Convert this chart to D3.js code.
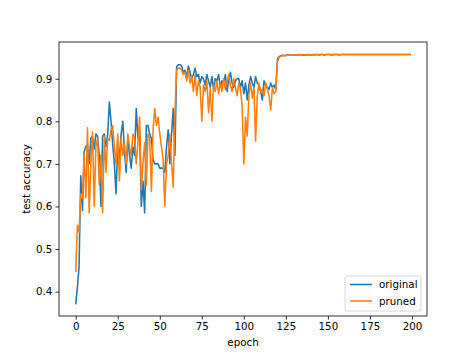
<!DOCTYPE html>
<html>
<head>
<meta charset="utf-8">
<script src="https://cdn.jsdelivr.net/npm/d3@7"></script>
<style>
  body { margin: 0; background: #fff; }
  svg text { font-family: "DejaVu Sans", sans-serif; fill: #000; }
</style>
</head>
<body>
<svg id="chart" width="474" height="355"></svg>
<script>
// test accuracy per epoch
var original = [
  0.372, 0.41, 0.46, 0.672, 0.59, 0.728, 0.74, 0.745, 0.70, 0.76,
  0.765, 0.735, 0.77, 0.765, 0.72, 0.60, 0.765, 0.77, 0.74, 0.77,
  0.845, 0.80, 0.745, 0.70, 0.63, 0.75, 0.71, 0.77, 0.80, 0.73,
  0.68, 0.76, 0.72, 0.69, 0.74, 0.72, 0.83, 0.76, 0.78, 0.60,
  0.66, 0.585, 0.79, 0.79, 0.77, 0.76, 0.71, 0.70, 0.70, 0.70,
  0.69, 0.69, 0.69, 0.68, 0.74, 0.78, 0.70, 0.77, 0.83, 0.72,
  0.928, 0.933, 0.933, 0.93, 0.915, 0.92, 0.905, 0.93, 0.915, 0.90,
  0.91, 0.925, 0.905, 0.91, 0.89, 0.905, 0.90, 0.885, 0.91, 0.895,
  0.88, 0.905, 0.875, 0.90, 0.895, 0.91, 0.88, 0.895, 0.89, 0.91,
  0.87, 0.895, 0.915, 0.89, 0.88, 0.895, 0.90, 0.90, 0.88, 0.895,
  0.865, 0.89, 0.85, 0.885, 0.905, 0.89, 0.88, 0.905, 0.89, 0.885,
  0.87, 0.85, 0.895, 0.885, 0.88, 0.875, 0.89, 0.88, 0.885, 0.875,
  0.947, 0.952, 0.954, 0.955, 0.954, 0.955, 0.956, 0.955, 0.956, 0.955,
  0.956, 0.955, 0.956, 0.957, 0.956, 0.956, 0.955, 0.956, 0.957, 0.956,
  0.956, 0.957, 0.956, 0.957, 0.957, 0.956, 0.957, 0.957, 0.956, 0.957,
  0.957, 0.957, 0.956, 0.957, 0.957, 0.957, 0.957, 0.956, 0.957, 0.957,
  0.957, 0.957, 0.957, 0.957, 0.957, 0.957, 0.957, 0.957, 0.957, 0.957,
  0.957, 0.957, 0.957, 0.957, 0.957, 0.957, 0.957, 0.957, 0.957, 0.957,
  0.957, 0.957, 0.957, 0.957, 0.957, 0.957, 0.957, 0.957, 0.957, 0.957,
  0.957, 0.957, 0.957, 0.957, 0.957, 0.957, 0.957, 0.957, 0.957, 0.957
];
var pruned = [
  0.448, 0.556, 0.54, 0.63, 0.62, 0.72, 0.62, 0.785, 0.585, 0.70,
  0.775, 0.60, 0.74, 0.76, 0.65, 0.72, 0.585, 0.765, 0.68, 0.76,
  0.755, 0.78, 0.79, 0.74, 0.70, 0.77, 0.66, 0.76, 0.72, 0.75,
  0.70, 0.77, 0.74, 0.72, 0.77, 0.76, 0.70, 0.75, 0.81, 0.64,
  0.70, 0.75, 0.65, 0.77, 0.76, 0.635, 0.78, 0.83, 0.79, 0.81,
  0.77, 0.74, 0.71, 0.60, 0.70, 0.72, 0.77, 0.70, 0.645, 0.82,
  0.92, 0.925, 0.925, 0.92, 0.91, 0.915, 0.895, 0.92, 0.89, 0.905,
  0.87, 0.91, 0.86, 0.895, 0.88, 0.80, 0.885, 0.87, 0.895, 0.82,
  0.88, 0.80, 0.885, 0.87, 0.895, 0.865, 0.89, 0.87, 0.90, 0.875,
  0.89, 0.91, 0.885, 0.87, 0.90, 0.88, 0.86, 0.89, 0.875, 0.835,
  0.70, 0.81, 0.765, 0.86, 0.89, 0.855, 0.88, 0.753, 0.86, 0.89,
  0.87, 0.875, 0.86, 0.89, 0.875, 0.86, 0.827, 0.88, 0.865, 0.87,
  0.94, 0.95, 0.953, 0.954, 0.955, 0.954, 0.955, 0.955, 0.956, 0.955,
  0.956, 0.956, 0.955, 0.956, 0.956, 0.957, 0.956, 0.956, 0.957, 0.956,
  0.957, 0.956, 0.957, 0.957, 0.956, 0.957, 0.957, 0.957, 0.956, 0.957,
  0.957, 0.957, 0.957, 0.956, 0.957, 0.957, 0.957, 0.957, 0.957, 0.957,
  0.957, 0.957, 0.957, 0.957, 0.957, 0.957, 0.957, 0.957, 0.957, 0.957,
  0.957, 0.957, 0.957, 0.957, 0.957, 0.957, 0.957, 0.957, 0.957, 0.957,
  0.957, 0.957, 0.957, 0.957, 0.957, 0.957, 0.957, 0.957, 0.957, 0.957,
  0.957, 0.957, 0.957, 0.957, 0.957, 0.957, 0.957, 0.957, 0.957, 0.957
];
var xTicks = [0, 25, 50, 75, 100, 125, 150, 175, 200];
var yTicks = [0.4, 0.5, 0.6, 0.7, 0.8, 0.9];
var seriesNames = ["original", "pruned"];
var colors = ["#1f77b4", "#ff7f0e"];

var svg = d3.select("#chart");
var margin = {left: 59, top: 42, right: 47, bottom: 39};
var width = 474 - margin.left - margin.right;
var height = 355 - margin.top - margin.bottom;

// matplotlib-like 5% padding
var n = original.length;
var xpad = (n - 1) * 0.05;
var x = d3.scaleLinear().domain([-xpad, n - 1 + xpad]).range([0, width]);
var all = original.concat(pruned);
var ymin = d3.min(all), ymax = d3.max(all), ypad = (ymax - ymin) * 0.05;
var y = d3.scaleLinear().domain([ymin - ypad, ymax + ypad]).range([height, 0]);

var g = svg.append("g").attr("transform", "translate(" + margin.left + "," + margin.top + ")");

var xAxis = g.append("g").attr("transform", "translate(0," + height + ")")
  .call(d3.axisBottom(x).tickValues(xTicks).tickSize(3.6).tickPadding(3).tickFormat(d3.format("d")));
var yAxis = g.append("g")
  .call(d3.axisLeft(y).tickValues(yTicks).tickSize(3.6).tickPadding(3).tickFormat(d3.format(".1f")));
[xAxis, yAxis].forEach(function(a) {
  a.select(".domain").remove();
  a.selectAll("line").attr("stroke", "#000").attr("stroke-width", 0.8);
  a.selectAll("text").style("font-size", "10.3px").attr("fill", "#000");
});

var line = d3.line().x(function(d, i) { return x(i); }).y(function(d) { return y(d); });
[original, pruned].forEach(function(s, k) {
  g.append("path").datum(s)
    .attr("fill", "none")
    .attr("stroke", colors[k])
    .attr("stroke-width", 1.55)
    .attr("stroke-linejoin", "round")
    .attr("stroke-linecap", "square")
    .attr("d", line);
});

// frame
g.append("rect").attr("width", width).attr("height", height)
  .attr("fill", "none").attr("stroke", "#000").attr("stroke-width", 0.8);

// labels
svg.append("text").attr("x", margin.left + width / 2).attr("y", 346)
  .attr("text-anchor", "middle").style("font-size", "10.3px").text("epoch");
svg.append("text").attr("transform", "translate(30," + (margin.top + height / 2) + ") rotate(-90)")
  .attr("text-anchor", "middle").style("font-size", "10.3px").text("test accuracy");

// legend
var lg = g.append("g").attr("transform", "translate(" + (width - 82) + "," + (height - 40) + ")");
lg.append("rect").attr("width", 76).attr("height", 35).attr("rx", 2)
  .attr("fill", "#fff").attr("fill-opacity", 0.8).attr("stroke", "#ccc").attr("stroke-width", 0.8);
seriesNames.forEach(function(name, k) {
  var yy = 8.5 + k * 16.5;
  lg.append("line").attr("x1", 5).attr("x2", 27).attr("y1", yy).attr("y2", yy)
    .attr("stroke", colors[k]).attr("stroke-width", 1.55);
  lg.append("text").attr("x", 34).attr("y", yy + 3.7).style("font-size", "10.3px").text(name);
});
</script>
</body>
</html>
